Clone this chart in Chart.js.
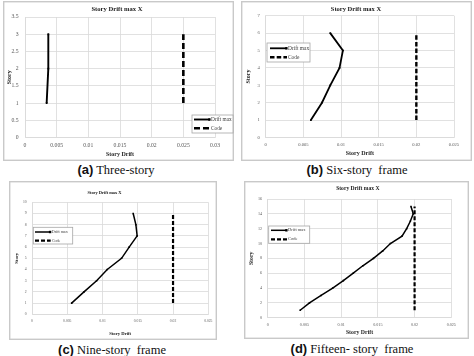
<!DOCTYPE html>
<html><head><meta charset="utf-8">
<script src="https://cdn.jsdelivr.net/npm/chart.js@4"></script>
<style>
html,body{margin:0;padding:0;background:#fff;}
body{width:474px;height:356px;position:relative;overflow:hidden;}
canvas{position:absolute;}
.cap{position:absolute;white-space:pre;font-family:"Liberation Serif",serif;font-size:12.5px;color:#111;transform:translate(-50%,-50%);line-height:1;}
.cap b{font-family:"Liberation Sans",Arial,sans-serif;font-weight:bold;font-size:13px;}
</style></head><body>
<div class="cap" style="left:116px;top:170px"><b>(a)</b> Three-story</div>
<div class="cap" style="left:357px;top:170px"><b>(b)</b> Six-story  frame</div>
<div class="cap" style="left:112px;top:350px"><b>(c)</b> Nine-story  frame</div>
<div class="cap" style="left:352px;top:349px"><b>(d)</b> Fifteen- story  frame</div>
<script>
// ---- data ----
const seriesNames = ["Drift max", "Code"];
const chartTitle = "Story Drift max X";
const xAxisTitle = "Story Drift";
const yAxisTitle = "Story";

const storiesA = [1, 2, 3];
const driftA = [0.00342, 0.00368, 0.00368];
const codeA = [0.025, 0.025, 0.025];

const storiesB = [1, 2, 3, 4, 5, 6];
const driftB = [0.0060, 0.00747, 0.00857, 0.0098, 0.01025, 0.00857];
const codeB = [0.02, 0.02, 0.02, 0.02, 0.02, 0.02];

const storiesC = [1, 2, 3, 4, 5, 6, 7, 8, 9];
const driftC = [0.00562, 0.00737, 0.00916, 0.01067, 0.0127, 0.01378, 0.01491, 0.01473, 0.01435];
const codeC = [0.02, 0.02, 0.02, 0.02, 0.02, 0.02, 0.02, 0.02, 0.02];

const storiesD = [1, 2, 3, 4, 5, 6, 7, 8, 9, 10, 11, 12, 13, 14, 15];
const driftD = [0.00442, 0.00569, 0.00727, 0.00885, 0.0103, 0.01165, 0.01295, 0.0144, 0.01566, 0.01671, 0.01829, 0.01892, 0.01942, 0.01982, 0.01951];
const codeD = [0.02, 0.02, 0.02, 0.02, 0.02, 0.02, 0.02, 0.02, 0.02, 0.02, 0.02, 0.02, 0.02, 0.02, 0.02];

const xTicksA = ["0", "0.005", "0.01", "0.015", "0.02", "0.025", "0.03"];
const xTicks25 = ["0", "0.005", "0.01", "0.015", "0.02", "0.025"];
const yTicksA = ["0", "0.5", "1", "1.5", "2", "2.5", "3", "3.5"];
const yTicksB = ["0", "1", "2", "3", "4", "5", "6", "7"];
const yTicksC = ["0", "1", "2", "3", "4", "5", "6", "7", "8", "9", "10"];
const yTicksD = ["0", "2", "4", "6", "8", "10", "12", "14", "16"];

// ---- layout ----
const panels = [
  {stories: storiesA, drift: driftA, code: codeA, xLabels: xTicksA, yLabels: yTicksA, xmax: 0.03, ymax: 3.5, ystep: 0.5,
   box: {x: 3, y: 1, w: 231, h: 160}, area: {l: 25, r: 215, t: 17, b: 137.5},
   title: {x: 117, y: 9, size: 6.6}, xTitleY: 154, yTitleX: 9.5, axisSize: 6,
   tick: 5.7, xTickY: 145, yTickR: 18.5,
   legend: {x: 192, y: 115, w: 41, h: 18, r1: 119.5, r2: 128.3, s1: 194, s2: 210, size: 5.3},
   lw: 1.9, pr: 1.3, cw: 2.6, dash: [6, 3]},
  {stories: storiesB, drift: driftB, code: codeB, xLabels: xTicks25, yLabels: yTicksB, xmax: 0.025, ymax: 7, ystep: 1,
   box: {x: 241, y: 1, w: 231, h: 160}, area: {l: 265.7, r: 454, t: 15.7, b: 137.5},
   title: {x: 356, y: 9, size: 6.5}, xTitleY: 153.3, yTitleX: 248.7, axisSize: 6,
   tick: 4.6, xTickY: 144, yTickR: 259.7,
   legend: {x: 267, y: 43, w: 43, h: 19, r1: 48.3, r2: 57.3, s1: 270, s2: 287, size: 5.4},
   lw: 1.8, pr: 1.2, cw: 2.4, dash: [4.5, 2.2]},
  {stories: storiesC, drift: driftC, code: codeC, xLabels: xTicks25, yLabels: yTicksC, xmax: 0.025, ymax: 10, ystep: 1,
   box: {x: 9, y: 181, w: 208, h: 159}, area: {l: 32, r: 208.3, t: 202.3, b: 314.3},
   title: {x: 104.5, y: 192.7, size: 4.4}, xTitleY: 333.3, yTitleX: 16.7, axisSize: 4.7,
   tick: 3.7, xTickY: 320.7, yTickR: 26.7,
   legend: {x: 33.3, y: 227.3, w: 39.4, h: 16.7, r1: 232, r2: 240.7, s1: 35, s2: 50.7, size: 4.1},
   lw: 1.5, pr: 1.1, cw: 2.2, dash: [4, 2]},
  {stories: storiesD, drift: driftD, code: codeD, xLabels: xTicks25, yLabels: yTicksD, xmax: 0.025, ymax: 16, ystep: 2,
   box: {x: 244, y: 181, w: 225, h: 158}, area: {l: 267.7, r: 451.3, t: 199, b: 317.7},
   title: {x: 357.8, y: 189, size: 5.6}, xTitleY: 332.7, yTitleX: 252, axisSize: 5.8,
   tick: 4.1, xTickY: 325, yTickR: 262,
   legend: {x: 268.7, y: 226, w: 41, h: 17.3, r1: 230.3, r2: 239.3, s1: 271, s2: 287, size: 4.5},
   lw: 1.5, pr: 1.1, cw: 2.2, dash: [4, 2]}
];

const SERIF = "'Liberation Serif', 'Times New Roman', serif";

function makePanel(p) {
  const c = document.createElement('canvas');
  const W = p.box.w, H = p.box.h, ox = p.box.x, oy = p.box.y;
  c.width = W; c.height = H;
  c.style.left = ox + 'px'; c.style.top = oy + 'px';
  c.style.width = W + 'px'; c.style.height = H + 'px';
  document.body.appendChild(c);
  const aL = p.area.l - ox, aR = p.area.r - ox, aT = p.area.t - oy, aB = p.area.b - oy;
  const lh = p.axisSize * 1.2;

  const deco = {
    id: 'deco' + ox,
    beforeDraw(chart) {
      const ctx = chart.ctx;
      ctx.save();
      ctx.fillStyle = '#fff';
      ctx.fillRect(0, 0, W, H);
      ctx.restore();
    },
    afterDraw(chart) {
      const ctx = chart.ctx;
      ctx.save();
      ctx.strokeStyle = '#c9c9c9';
      ctx.lineWidth = 1.4;
      ctx.strokeRect(0.7, 0.7, W - 1.4, H - 1.4);
      ctx.fillStyle = '#1a1a1a';
      ctx.font = 'bold ' + p.title.size + 'px ' + SERIF;
      ctx.textAlign = 'center';
      ctx.textBaseline = 'middle';
      ctx.fillText(chartTitle, p.title.x - ox, p.title.y - oy);
      const L = p.legend;
      const lx = L.x - ox, ly = L.y - oy;
      ctx.fillStyle = '#fff';
      ctx.fillRect(lx, ly, L.w, L.h);
      ctx.strokeStyle = '#a6a6a6';
      ctx.lineWidth = 0.8;
      ctx.strokeRect(lx, ly, L.w, L.h);
      const ds = chart.data.datasets;
      const rows = [L.r1 - oy, L.r2 - oy];
      ds.forEach((d, i) => {
        const y = rows[i];
        ctx.strokeStyle = d.borderColor;
        ctx.lineWidth = d.borderWidth;
        ctx.setLineDash(d.borderDash || []);
        ctx.beginPath();
        ctx.moveTo(L.s1 - ox, y);
        ctx.lineTo(L.s2 - ox, y);
        ctx.stroke();
        ctx.setLineDash([]);
        if (i === 0) {
          ctx.fillStyle = '#000';
          ctx.fillRect(L.s2 - ox - 1.8, y - 1.2, 2.4, 2.4);
        }
        ctx.fillStyle = '#404040';
        ctx.font = L.size + 'px ' + SERIF;
        ctx.textAlign = 'left';
        ctx.textBaseline = 'middle';
        ctx.fillText(d.label, L.s2 - ox + 1, y);
      });
      ctx.restore();
    }
  };

  new Chart(c, {
    type: 'scatter',
    data: {
      datasets: [
        {label: seriesNames[0], data: p.stories.map((s, i) => ({x: p.drift[i], y: s})), showLine: true,
         borderColor: '#000', backgroundColor: '#000', borderWidth: p.lw, pointRadius: p.pr, pointHoverRadius: p.pr,
         pointStyle: 'rect', pointBorderWidth: 0},
        {label: seriesNames[1], data: p.stories.map((s, i) => ({x: p.code[i], y: s})), showLine: true,
         borderColor: '#000', backgroundColor: '#000', borderWidth: p.cw, borderDash: p.dash, borderCapStyle: 'butt',
         pointRadius: 0, pointHoverRadius: 0}
      ]
    },
    options: {
      responsive: false, animation: false, devicePixelRatio: 1, events: [],
      layout: {padding: {left: 0, top: aT, right: W - aR, bottom: 0}},
      plugins: {legend: {display: false}, title: {display: false}, tooltip: {enabled: false}},
      scales: {
        x: {
          type: 'linear', min: 0, max: p.xmax,
          ticks: {stepSize: 0.005, autoSkip: false, maxRotation: 0, minRotation: 0,
            padding: p.xTickY - p.area.b - p.tick * 0.5, color: '#595959',
            font: {family: SERIF, size: p.tick}, callback: (v, i) => p.xLabels[i]},
          grid: {color: '#d9d9d9', lineWidth: 0.8, drawTicks: false},
          border: {color: '#d9d9d9', width: 0.8},
          title: {display: true, text: xAxisTitle, color: '#262626',
            font: {family: SERIF, size: p.axisSize, weight: 'bold', lineHeight: 1.2},
            padding: {top: 0, bottom: (p.box.y + H - p.xTitleY) - lh / 2}},
          afterFit: s => { s.height = H - aB; }
        },
        y: {
          type: 'linear', min: 0, max: p.ymax,
          ticks: {stepSize: p.ystep, autoSkip: false, padding: p.area.l - p.yTickR, color: '#595959',
            font: {family: SERIF, size: p.tick}, callback: (v, i) => p.yLabels[i]},
          grid: {color: '#d9d9d9', lineWidth: 0.8, drawTicks: false},
          border: {color: '#d9d9d9', width: 0.8},
          title: {display: true, text: yAxisTitle, color: '#262626',
            font: {family: SERIF, size: p.axisSize, weight: 'bold', lineHeight: 1.2},
            padding: {top: (p.yTitleX - ox) - lh / 2, bottom: 0}},
          afterFit: s => { s.width = aL; }
        }
      }
    },
    plugins: [deco]
  });
}

panels.forEach(makePanel);
</script>
</body></html>
